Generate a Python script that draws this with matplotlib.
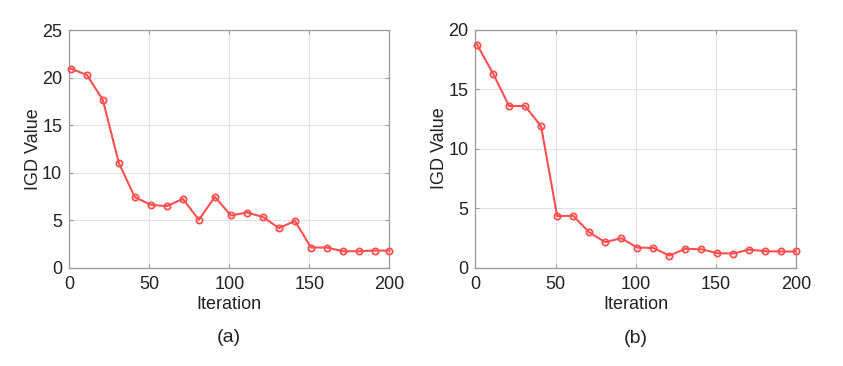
import matplotlib.pyplot as plt

plt.rcParams['font.family'] = ['Liberation Sans', 'DejaVu Sans']

iterations = [1, 11, 21, 31, 41, 51, 61, 71, 81, 91, 101,
              111, 121, 131, 141, 151, 161, 171, 181, 191, 200]

igd_a = [20.96, 20.32, 17.69, 11.04, 7.42, 6.61, 6.47, 7.24, 5.03, 7.45, 5.49,
         5.80, 5.34, 4.15, 4.92, 2.11, 2.11, 1.72, 1.72, 1.79, 1.79]

igd_b = [18.74, 16.30, 13.58, 13.58, 11.87, 4.32, 4.35, 2.97, 2.13, 2.47, 1.68,
         1.65, 1.01, 1.57, 1.54, 1.21, 1.18, 1.51, 1.37, 1.35, 1.35]

panels = [
    (igd_a, 25, [0, 5, 10, 15, 20, 25], '(a)', [0.082, 0.269, 0.380, 0.648]),
    (igd_b, 20, [0, 5, 10, 15, 20], '(b)', [0.564, 0.269, 0.380, 0.650]),
]

line_color = '#FF4F4F'

fig = plt.figure(figsize=(8.43, 3.66), dpi=100)

for values, ymax, yticks, label, rect in panels:
    ax = fig.add_axes(rect)
    ax.plot(iterations, values, color=line_color, linewidth=1.5,
            marker='o', markersize=4.5, markerfacecolor='none',
            markeredgecolor=line_color, markeredgewidth=1.3, clip_on=False, zorder=3)
    ax.set_xlim(0, 200)
    ax.set_ylim(0, ymax)
    ax.set_xticks([0, 50, 100, 150, 200])
    ax.set_yticks(yticks)
    ax.grid(True, color='#e3e3e3', linewidth=0.8)
    ax.set_axisbelow(True)
    for sp in ax.spines.values():
        sp.set_color('#9a9a9a')
        sp.set_linewidth(0.9)
    ax.tick_params(direction='in', length=3, color='#9a9a9a', labelsize=13,
                   labelcolor='#222222', top=True, right=True,
                   labeltop=False, labelright=False)
    ax.tick_params(axis='x', pad=6)
    ax.tick_params(axis='y', pad=5)
    ax.set_xlabel('Iteration', fontsize=13, color='#222222', labelpad=2)
    ax.set_ylabel('IGD Value', fontsize=13, color='#222222', labelpad=0)
    ax.text(0.5, -0.297, label, transform=ax.transAxes, ha='center', va='center',
            fontsize=14, color='#222222')

fig.savefig('out.png', dpi=100, facecolor='white')
